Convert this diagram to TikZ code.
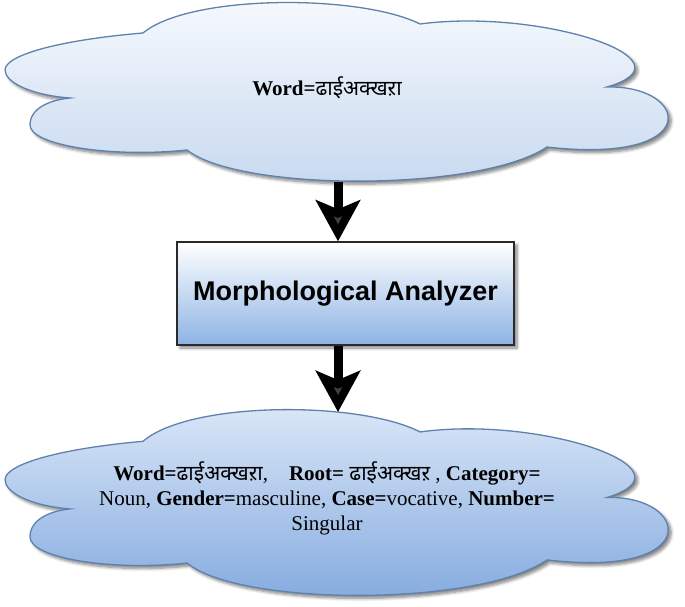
\documentclass[tikz,border=0pt]{standalone}
\usepackage{fontspec}
\setmainfont{Liberation Serif}
\newfontfamily\devfont[Script=Devanagari]{Noto Sans}
\newfontfamily\arialfont{Liberation Sans}
\usetikzlibrary{arrows.meta,shadows.blur}
\definecolor{cloudedge}{HTML}{5F82AD}
\definecolor{topcloudtop}{HTML}{F7FAFE}
\definecolor{topcloudbot}{HTML}{C6D8EF}
\definecolor{botcloudtop}{HTML}{DCE8F8}
\definecolor{botcloudbot}{HTML}{82A9DE}
\definecolor{boxbot}{HTML}{8DB3E4}
\definecolor{boxedge}{HTML}{2A2A2A}
\tikzset{
  cloudshape/.style={insert path={(143,33) .. controls (190,-6) and (360,-6) .. (420,24)
    .. controls (540,8) and (700,60) .. (607,87)
    .. controls (690,85) and (705,165) .. (547,147)
    .. controls (480,192) and (240,192) .. (187,150)
    .. controls (110,158) and (30,145) .. (30,125)
    .. controls (30,108) and (50,100) .. (70,98)
    .. controls (30,95) and (5,82) .. (5,70)
    .. controls (5,55) and (60,40) .. cycle}},
  cloudstyle/.style={draw=cloudedge, line width=1.3pt,
    blur shadow={shadow xshift=3pt, shadow yshift=-3pt, shadow blur steps=6, shadow blur radius=3pt, shadow opacity=50}},
  procbox/.style={draw=boxedge, line width=1.4pt, top color=white, bottom color=boxbot,
    minimum width=337pt, minimum height=103pt, inner sep=0pt,
    blur shadow={shadow xshift=3pt, shadow yshift=-3pt, shadow blur steps=6, shadow blur radius=3pt, shadow opacity=50}},
  flowarrow/.style={line width=9pt, -{Stealth[length=41pt, width=44pt, inset=9pt]}},
  serifword/.style={font=\rmfamily\fontsize{21}{25}\selectfont},
  serifresult/.style={font=\rmfamily\fontsize{21}{25}\selectfont, align=center},
  sansbold/.style={font=\arialfont\bfseries\fontsize{27}{31}\selectfont}
}
\begin{document}
\begin{tikzpicture}[x=1pt, y=-1pt]
\useasboundingbox (0,0) rectangle (685,607);
% top cloud
\path[cloudstyle, top color=topcloudtop, bottom color=topcloudbot, cloudshape];
% bottom cloud
\begin{scope}[shift={(0,407)}, yscale=1.04]
\path[cloudstyle, top color=botcloudtop, bottom color=botcloudbot, cloudshape];
\end{scope}
\node[serifword] (word) at (327,88) {\textbf{Word=}{\devfont ढाईअक्खऱा}};
\coordinate (topout) at (338,182);
\node[procbox] (ma) at (345.5,293.5) {};
\node[sansbold] (malabel) at (ma.center) {Morphological Analyzer};
\coordinate (botin) at (338,412);
\node[serifresult] (result) at (327,498) {\textbf{Word=}{\devfont ढाईअक्खऱा},\quad \textbf{Root=} {\devfont ढाईअक्खऱ} , \textbf{Category=}\\
Noun, \textbf{Gender=}masculine, \textbf{Case=}vocative, \textbf{Number=}\\
\rmfamily Singular};
\draw[flowarrow] (topout) -- (topout |- ma.north);
\draw[flowarrow] (ma.south -| botin) -- (botin);
\end{tikzpicture}
\end{document}
